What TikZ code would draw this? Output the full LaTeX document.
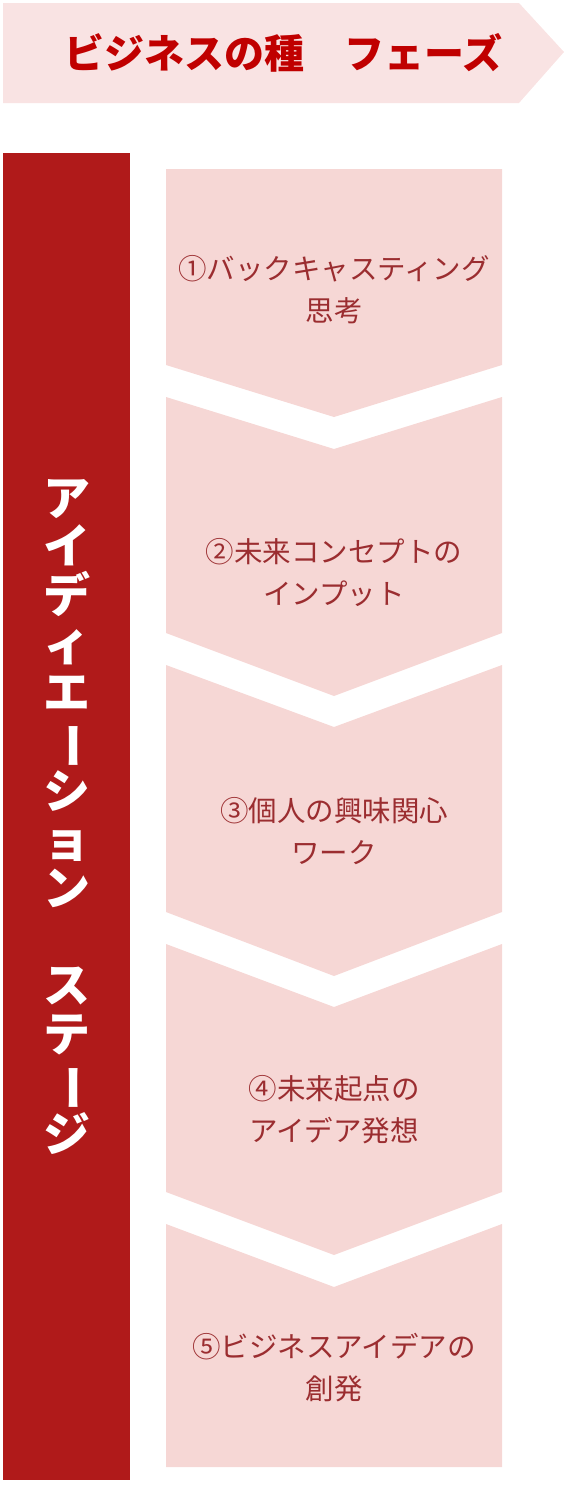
\documentclass[tikz,border=0pt]{standalone}
\usepackage{fontspec}
\setmainfont{Noto Sans CJK JP}
\usepackage{tikz}
\definecolor{bannerpink}{HTML}{F9E3E3}
\definecolor{steppink}{HTML}{F6D7D5}
\definecolor{stagered}{HTML}{B01A1A}
\definecolor{titlered}{HTML}{C00000}
\definecolor{steptextred}{HTML}{9B2D30}
\tikzset{chevron/.style={fill=steppink}}
\tikzset{steptext/.style={text=steptextred, align=center, font=\fontsize{28.5}{42}\selectfont}}
\newcommand{\vbar}{\rotatebox[origin=c]{-90}{ー}}

\begin{document}
\begin{tikzpicture}[x=1pt, y=-1pt]
    \useasboundingbox (0, 0) rectangle (567, 1500);
    \fill[bannerpink] (3, 3) -- (519, 3) -- (564, 52) -- (519, 103) -- (3, 103) -- cycle;
    \node[text=titlered, font=\fontsize{40}{40}\selectfont\bfseries] at (283, 53) (title) {ビジネスの種　フェーズ};

    \fill[stagered] (3, 153) rectangle (130, 1480);
    \node[text=white, align=center, font=\fontsize{47}{48.5}\selectfont\bfseries] at (67, 817) (stage)
        {ア\\イ\\デ\\ィ\\エ\\\vbar\\シ\\ョ\\ン\\　\\ス\\テ\\\vbar\\ジ};

    \foreach \ts/\tn/\bs/\bp in {169/169/365/417, 397/449/633/696, 665/727/912/976, 944/1007/1192/1255, 1224/1287/1467/1467}
        \fill[chevron] (166, \ts) -- (334, \tn) -- (502, \ts) -- (502, \bs) -- (334, \bp) -- (166, \bs) -- cycle;

    \node[steptext] at (334, 290) (s1) {①バックキャスティング\\思考};
    \node[steptext] at (334, 573) (s2) {②未来コンセプトの\\インプット};
    \node[steptext] at (334, 831) (s3) {③個人の興味関心\\ワーク};
    \node[steptext] at (334, 1110) (s4) {④未来起点の\\アイデア発想};
    \node[steptext] at (334, 1368) (s5) {⑤ビジネスアイデアの\\創発};
\end{tikzpicture}
\end{document}
